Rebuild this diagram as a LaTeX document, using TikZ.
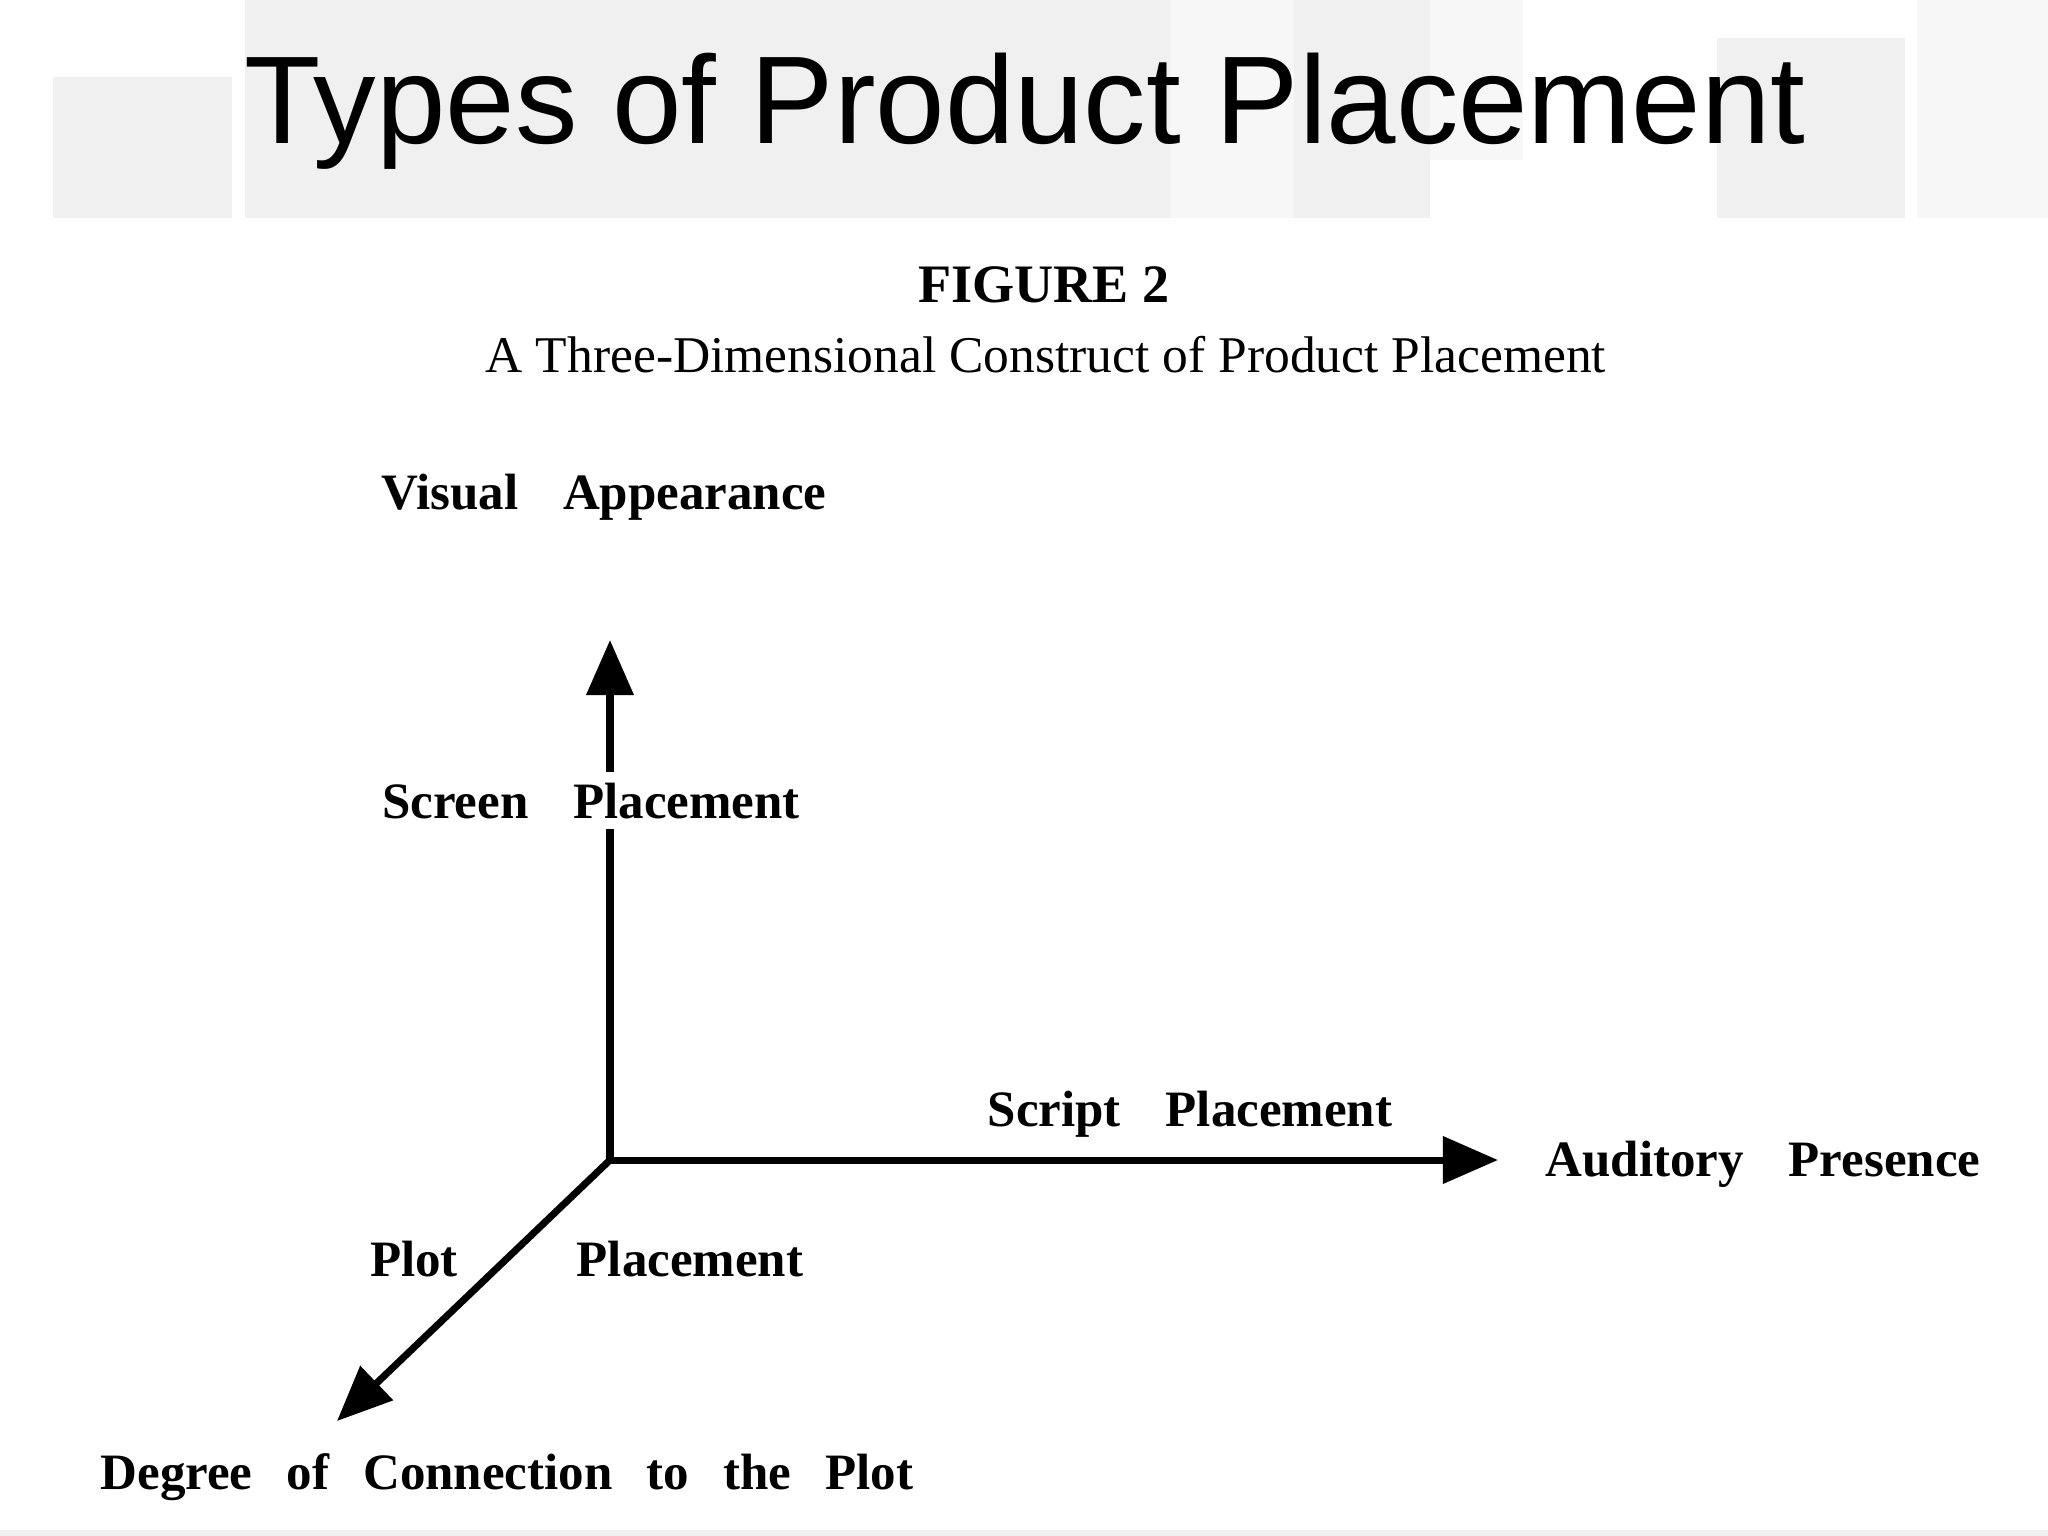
\documentclass[tikz,border=0pt]{standalone}
\usepackage{fontspec}
\setmainfont{Liberation Serif}
\newfontfamily\headfont{Liberation Sans}
\usetikzlibrary{arrows.meta}
\definecolor{band}{HTML}{F0F0F0}
\definecolor{bandlight}{HTML}{F7F7F7}
\newcommand{\wgap}{\hspace{0.88em}}

\begin{document}
\begin{tikzpicture}[x=0.01cm,y=-0.01cm,
    axis/.style={line width=2pt,-{Triangle[length=0.55cm,width=0.46cm]}},
    lbl/.style={font=\fontsize{14.5}{17}\bfseries\selectfont,inner sep=0pt,anchor=base}]
  \useasboundingbox (0,0) rectangle (2048,1536);
  % title band
  \fill[white] (0,0) rectangle (2048,1536);
  \fill[band] (53,77) rectangle (232,218);
  \fill[band] (245,0) rectangle (1170,218);
  \fill[bandlight] (1170,0) rectangle (1294,218);
  \fill[band] (1294,0) rectangle (1430,218);
  \fill[bandlight] (1430,0) rectangle (1523,160);
  \fill[band] (1717,38) rectangle (1905,218);
  \fill[bandlight] (1917,0) rectangle (2048,218);
  \fill[band] (0,1530) rectangle (2048,1536);
  \node[anchor=base,inner sep=0pt,font=\headfont\fontsize{35.5}{40}\selectfont]
    (title) at (1025,143) {Types of Product Placement};
  \node[anchor=base,inner sep=0pt,font=\fontsize{15.4}{18}\bfseries\selectfont]
    (fig) at (1044,302) {FIGURE 2};
  \node[anchor=base,inner sep=0pt,font=\fontsize{14.65}{17}\selectfont]
    (sub) at (1046,372) {A Three-Dimensional Construct of Product Placement};
  % axes
  \coordinate (o) at (610,1160);
  \coordinate (up) at (610,640);
  \coordinate (right) at (1498,1160);
  \coordinate (down) at (337,1421);
  \draw[axis] (o) -- (up);
  \draw[axis] (o) -- (right);
  \draw[axis] (o) -- (down);
  % labels
  \node[lbl] (vis) at (604,509) {Visual\wgap Appearance};
  \node[lbl,fill=white,inner sep=3pt] (scr) at (591,818) {Screen\wgap Placement};
  \node[lbl] (scp) at (1190,1126) {Script\wgap Placement};
  \node[lbl] (aud) at (1763,1176) {Auditory\wgap Presence};
  \node[lbl] (plot) at (414,1276) {Plot};
  \node[lbl] (plc) at (690,1276) {Placement};
  \node[lbl] (deg) at (507,1489) {Degree\hspace{0.67em}of\hspace{0.67em}Connection\hspace{0.67em}to\hspace{0.67em}the\hspace{0.67em}Plot};
\end{tikzpicture}
\end{document}
